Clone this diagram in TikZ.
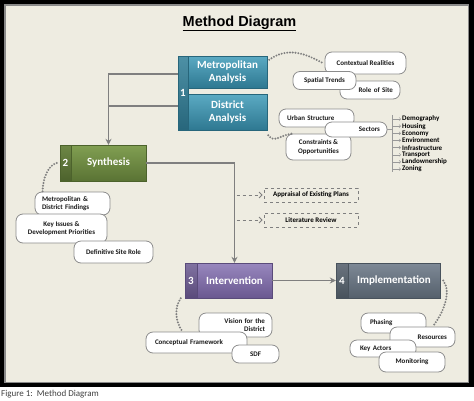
\documentclass[tikz,border=0pt]{standalone}
\usepackage{fontspec}
\setmainfont{Carlito}
\newfontfamily\titlefont{Liberation Sans}
\usetikzlibrary{arrows.meta}

\definecolor{paper}{HTML}{EEECE1}
\definecolor{rim}{HTML}{8A8A8A}
\definecolor{linkgray}{HTML}{7F7F7F}
\definecolor{bubbleline}{HTML}{8C8C8C}
\definecolor{tealtop}{HTML}{5BAAC3}
\definecolor{tealbot}{HTML}{2E7891}
\definecolor{greentop}{HTML}{819F52}
\definecolor{greenbot}{HTML}{5A7334}
\definecolor{purpletop}{HTML}{9887BE}
\definecolor{purplebot}{HTML}{6A5890}
\definecolor{slatetop}{HTML}{7E8996}
\definecolor{slatebot}{HTML}{55606C}

\begin{document}
\begin{tikzpicture}[x=1pt, y=-1pt,
    stage/.style={draw=#1bot!85!black, top color=#1top, bottom color=#1bot,
      text=white, font=\bfseries\fontsize{11}{12.5}\selectfont, align=center,
      inner sep=0pt},
    strip/.style={stage=#1, top color=#1top!85!black, bottom color=#1bot!85!black},
    bubble/.style={draw=bubbleline, fill=white, rounded corners=7pt, line width=0.8pt,
      font=\bfseries\fontsize{7}{8.2}\selectfont, align=center, inner sep=0pt,
      text=black!90},
    source/.style={draw=linkgray, dashed, line width=0.6pt, inner sep=0pt,
      font=\bfseries\fontsize{7}{8}\selectfont, minimum width=94, minimum height=14},
    sector/.style={anchor=west, inner sep=1pt, font=\bfseries\fontsize{7}{7.5}\selectfont},
    link/.style={draw=linkgray, line width=1.3pt},
    arrow/.style={link, -{Stealth[length=6pt,width=6pt]}},
    dasharrow/.style={draw=linkgray, line width=0.9pt, dashed,
      -{Straight Barb[length=3pt,width=6pt]}},
    tick/.style={draw=linkgray!80, line width=0.5pt, -{Straight Barb[length=1.5pt,width=3pt]}},
    dots/.style={draw=linkgray, line width=2.2pt, line cap=round, dash pattern=on 0pt off 2.8pt}
  ]
    % frame
    \useasboundingbox (0,0) rectangle (474,400);
    \fill[black] (0,0) rectangle (474,387);
    \fill[rim] (4,4) rectangle (469,383);
    \fill[paper] (5.5,5.5) rectangle (467.5,381.5);
    \node[font=\titlefont\bfseries\fontsize{14.5}{16}\selectfont, anchor=base] (title)
      at (239.5,26) {\underline{Method Diagram}};

    % stage 1
    \node[strip=teal, minimum width=10, minimum height=74] (s1) at (183,93) {1};
    \node[stage=teal, minimum width=79, minimum height=32] (metro) at (227.5,72) {Metropolitan\\Analysis};
    \node[stage=teal, minimum width=79, minimum height=36] (district) at (227.5,112) {District\\Analysis};

    % stage 2
    \node[strip=green, minimum width=11, minimum height=36] (s2) at (65.5,163) {2};
    \node[stage=green, minimum width=75, minimum height=36] (synth) at (108.5,163) {Synthesis};

    % stage 3 and 4
    \node[strip=purple, minimum width=12, minimum height=35] (s3) at (191,280.5) {3};
    \node[stage=purple, minimum width=75, minimum height=35] (inter) at (234.5,280.5) {Intervention};
    \node[strip=slate, minimum width=12, minimum height=35] (s4) at (342,280.5) {4};
    \node[stage=slate, minimum width=92, minimum height=35] (impl) at (394,280.5) {Implementation};

    % flow
    \coordinate (m1) at ([yshift=-2pt]metro.west -| s1.west);
    \coordinate (d1) at ([yshift=6pt]district.west -| s1.west);
    \draw[arrow] (m1) -| (synth.north);
    \draw[link] (d1) -- (d1 -| synth.north);
    \draw[arrow] (synth.east) -| (inter.north);
    \draw[arrow] (inter.east) -- (s4.west);

    \node[source] (plans) at (311,195) {Appraisal of Existing Plans};
    \node[source] (review) at (311,220) {Literature Review};
    \draw[dasharrow] ([xshift=2pt]plans.west -| inter.north) -- ([xshift=-1pt]plans.west);
    \draw[dasharrow] ([xshift=2pt]review.west -| inter.north) -- ([xshift=-1pt]review.west);

    % metropolitan outputs
    \node[bubble, minimum width=81, minimum height=22] (ctx) at (365.5,63) {Contextual Realities};
    \node[bubble, minimum width=60, minimum height=18, text width=46, align=right] (role) at (370,90) {Role of Site};
    \node[bubble, minimum width=63, minimum height=18] (trend) at (324.5,80.5) {Spatial Trends};
    \draw[dots] ([shift={(2pt,-4pt)}]metro.north east) .. controls +(18,-13) and +(-18,-10) .. ([xshift=-2pt]ctx.west);

    % district outputs
    \node[bubble, minimum width=75, minimum height=18, text width=59, align=left] (urban) at (316.5,118) {Urban Structure};
    \node[bubble, minimum width=65, minimum height=26] (cons) at (318.5,147) {Constraints \&\\Opportunities};
    \node[bubble, minimum width=62, minimum height=15, text width=48, align=right] (sectors) at (356,129.5) {Sectors};
    \draw[dots] ([shift={(1pt,-5pt)}]district.south east) .. controls +(6,8) and +(-12,2) .. ([xshift=6pt]cons.north west);

    \coordinate (bartop) at (392,115);
    \coordinate (barbot) at (392,172);
    \draw[draw=linkgray!80, line width=0.6pt] (bartop) -- (barbot);
    \draw[draw=linkgray!80, line width=0.6pt] (sectors.east) -- (sectors.east -| bartop);
    \foreach \s [count=\i] in {Demography, Housing, Economy, Environment, Infrastructure,
        Transport, Landownership, Zoning} {
      \node[sector] (sec\i) at (401,119+7.15*\i-7.15) {\s};
      \draw[tick] ([xshift=1pt]sec\i.west -| bartop) -- (sec\i.west);
    }

    % synthesis outputs
    \node[bubble, minimum width=75, minimum height=23, text width=61, align=left] (mdf) at (72.5,203.5) {Metropolitan \&\\District Findings};
    \node[bubble, minimum width=91, minimum height=29] (issues) at (61.5,228.5) {Key Issues \&\\Development Priorities};
    \node[bubble, minimum width=79, minimum height=22] (siterole) at (113.5,252) {Definitive Site Role};
    \draw[dots] ([xshift=-3pt]s2.west) .. controls +(-9,2) and +(0,-12) .. ([xshift=8pt]mdf.north west);

    % intervention outputs
    \node[bubble, minimum width=73, minimum height=24, text width=59, align=right] (vision) at (235.5,325) {Vision for the\\District};
    \node[bubble, minimum width=101, minimum height=21, text width=83, align=left] (frame) at (196.5,342.5) {Conceptual Framework};
    \node[bubble, minimum width=47, minimum height=18] (sdf) at (255.5,354) {SDF};
    \draw[dots] ([xshift=-4pt]s3.south west) .. controls +(-7,10) and +(-7,-10) .. ([xshift=-14pt]frame.north);

    % implementation outputs
    \node[bubble, minimum width=65, minimum height=20, text width=47, align=left] (phase) at (393.5,323) {Phasing};
    \node[bubble, minimum width=65, minimum height=20, text width=49, align=right] (res) at (422.5,337) {Resources};
    \node[bubble, minimum width=66, minimum height=17, text width=46, align=left] (actors) at (383,348.5) {Key Actors};
    \node[bubble, minimum width=66, minimum height=20] (monitor) at (412,362) {Monitoring};
    \draw[dots] ([xshift=3pt]impl.east) .. controls +(9,12) and +(10,-12) .. ([xshift=10pt]res.north);

    % caption
    \node[anchor=base west, inner sep=0pt, text=black!75, font=\fontsize{9}{10}\selectfont] (caption)
      at (1,396.5) {Figure 1:\ \ Method Diagram};
  \end{tikzpicture}
\end{document}
